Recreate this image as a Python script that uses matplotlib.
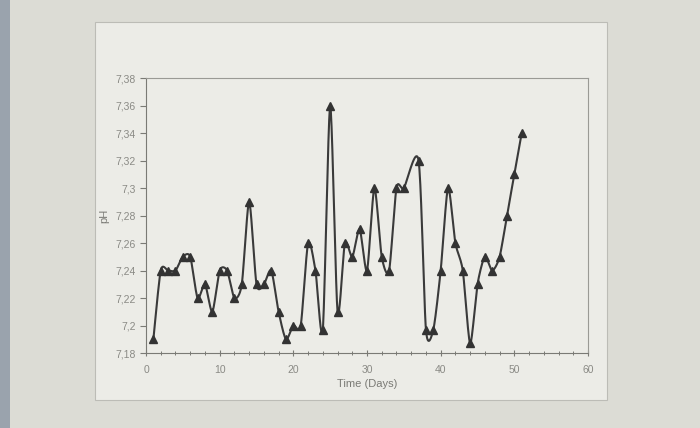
import numpy as np
import matplotlib
matplotlib.use("Agg")
import matplotlib.pyplot as plt
from matplotlib.patches import Rectangle

# ---- data ----
days = [1, 2, 3, 4, 5, 6, 7, 8, 9, 10, 11, 12, 13, 14, 15, 16, 17, 18, 19, 20,
        21, 22, 23, 24, 25, 26, 27, 28, 29, 30, 31, 32, 33, 34, 35, 37, 38, 39, 40,
        41, 42, 43, 44, 45, 46, 47, 48, 49, 50, 51]
ph = [7.19, 7.24, 7.24, 7.24, 7.25, 7.25, 7.22, 7.23, 7.21, 7.24, 7.24, 7.22, 7.23,
      7.29, 7.23, 7.23, 7.24, 7.21, 7.19, 7.20, 7.20, 7.26, 7.24, 7.197, 7.36, 7.21,
      7.26, 7.25, 7.27, 7.24, 7.30, 7.25, 7.24, 7.30, 7.30, 7.32, 7.197, 7.197, 7.24,
      7.30, 7.26, 7.24, 7.187, 7.23, 7.25, 7.24, 7.25, 7.28, 7.31, 7.34]
yticks = [7.18, 7.20, 7.22, 7.24, 7.26, 7.28, 7.30, 7.32, 7.34, 7.36, 7.38]
ytick_labels = ["7,18", "7,2", "7,22", "7,24", "7,26", "7,28", "7,3", "7,32", "7,34", "7,36", "7,38"]
xticks = [0, 10, 20, 30, 40, 50, 60]


def smooth(x, y, n=20, k=8.0):
    """Excel-like smoothed line (Bezier) through the data points."""
    x = np.asarray(x, float)
    y = np.asarray(y, float)
    xs, ys = [], []
    t = np.linspace(0, 1, n)
    for i in range(len(x) - 1):
        p0 = np.array([x[max(i - 1, 0)], y[max(i - 1, 0)]])
        p1 = np.array([x[i], y[i]])
        p2 = np.array([x[i + 1], y[i + 1]])
        p3 = np.array([x[min(i + 2, len(x) - 1)], y[min(i + 2, len(x) - 1)]])
        c1 = p1 + (p2 - p0) / k
        c2 = p2 - (p3 - p1) / k
        pts = ((1 - t) ** 3)[:, None] * p1 + (3 * (1 - t) ** 2 * t)[:, None] * c1 \
            + (3 * (1 - t) * t ** 2)[:, None] * c2 + (t ** 3)[:, None] * p2
        xs.extend(pts[:, 0])
        ys.extend(pts[:, 1])
    return xs, ys


plt.rcParams['font.family'] = ['Liberation Sans', 'DejaVu Sans']

fig = plt.figure(figsize=(7, 4.28), dpi=100)
fig.patch.set_facecolor("#dcdcd5")

# left dark strip of the photographed screen
fig.add_artist(Rectangle((0, 0), 0.014, 1, transform=fig.transFigure,
                         facecolor="#9aa3ad", edgecolor="none", zorder=0))
# chart area
fig.add_artist(Rectangle((0.136, 0.066), 0.731, 0.882, transform=fig.transFigure,
                         facecolor="#ececE7", edgecolor="#bcbcb6", linewidth=0.8, zorder=0))

ax = fig.add_axes([0.2086, 0.1752, 0.6314, 0.6425])
ax.set_facecolor("#ececE7")

sx, sy = smooth(days, ph)
ax.plot(sx, sy, color="#3a3a3a", linewidth=1.5, zorder=2)
ax.plot(days, ph, linestyle="none", marker="^", markersize=6,
        color="#333333", zorder=3)

ax.set_xlim(0, 60)
ax.set_ylim(7.18, 7.38)
ax.set_xticks(xticks)
ax.set_xticks(np.arange(0, 61, 2), minor=True)
ax.set_yticks(yticks)
ax.set_yticklabels(ytick_labels)

for s in ax.spines.values():
    s.set_color("#9a9a95")
    s.set_linewidth(0.8)
ax.spines['left'].set_color("#7a7a75")
ax.spines['bottom'].set_color("#7a7a75")

ax.tick_params(axis='both', which='major', labelsize=7.5, labelcolor="#8a8a85",
               color="#7a7a75", length=4, width=0.8)
ax.tick_params(axis='x', which='major', direction='inout', length=5, pad=6)
ax.tick_params(axis='x', which='minor', direction='inout', length=3, width=0.7, color="#7a7a75")
ax.tick_params(axis='y', which='major', direction='out', length=4)

ax.set_xlabel("Time (Days)", fontsize=8, color="#7a7a75", labelpad=3)
ax.set_ylabel("pH", fontsize=8, color="#7a7a75", labelpad=4)

fig.savefig("out.png", dpi=100, facecolor=fig.get_facecolor())
